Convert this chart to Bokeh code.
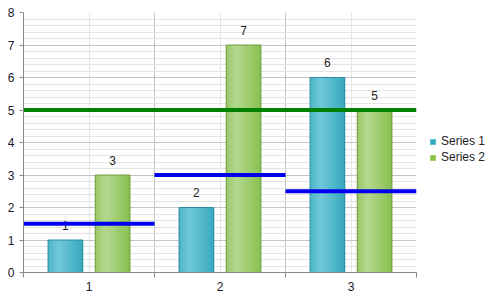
import numpy as np
from bokeh.plotting import figure
from bokeh.models import (Range1d, FixedTicker, Legend, LegendItem)
from bokeh.core.properties import value
from bokeh.embed import file_html
from bokeh.resources import INLINE

# ---- data ----
categories = ["1", "2", "3"]
series1 = [1, 2, 6]
series2 = [3, 7, 5]
blue_levels = [1.5, 3.0, 2.5]   # per-category horizontal line
green_level = 5.0               # line across whole chart
series_names = ["Series 1", "Series 2"]

FONT = "Liberation Sans"

x = np.arange(1, len(categories) + 1)

p = figure(frame_width=393, frame_height=260, width=491, height=293,
           min_border_left=23, min_border_right=75, min_border_top=12, min_border_bottom=21,
           output_backend="svg", toolbar_location=None,
           x_range=Range1d(0.5, 3.5), y_range=Range1d(0, 8))
p.outline_line_color = None
p.background_fill_color = "white"
p.border_fill_color = "white"

# axes
p.xaxis.ticker = FixedTicker(ticks=list(x), minor_ticks=list(np.arange(0.5, len(categories) + 1, 1.0)))
p.xaxis.major_label_overrides = {int(i): c for i, c in zip(x, categories)}
p.xaxis.major_tick_out = 0
p.xaxis.major_tick_in = 0
p.xaxis.minor_tick_out = 5
p.xaxis.minor_tick_in = 0
p.xaxis.minor_tick_line_color = "#8a8a8a"
p.xaxis.major_label_standoff = 4

p.yaxis.ticker = FixedTicker(ticks=list(range(0, 9)), minor_ticks=list(np.round(np.arange(0, 8.01, 0.2), 2)))
p.yaxis.major_tick_out = 4
p.yaxis.major_tick_in = 0
p.yaxis.minor_tick_out = 0
p.yaxis.minor_tick_in = 0
p.yaxis.major_tick_line_color = "#8a8a8a"
p.yaxis.major_label_standoff = 5

for ax in (p.xaxis, p.yaxis):
    ax.axis_line_color = "#8a8a8a"
    ax.major_label_text_font = FONT
    ax.major_label_text_font_size = "12px"
    ax.major_label_text_color = "#1a1a2e"

p.xgrid.grid_line_color = "#e6e6e6"
p.xgrid.minor_grid_line_color = "#c4c4c4"
p.ygrid.grid_line_color = "#c4c4c4"
p.ygrid.minor_grid_line_color = "#e4e4e4"

# bars with simulated gradient
bar_w = 0.265
offsets = [-0.18, 0.18]
edge_cols = [(0x36, 0xa8, 0xbe), (0x88, 0xc0, 0x50)]
light_cols = [(0x70, 0xc9, 0xd8), (0xb4, 0xd8, 0x8e)]
leg_cols = ["#35aac0", "#8bc34a"]
border_cols = ["#2a8ea2", "#6f9d40"]
N = 18

def mix(a, b, f):
    return "#%02x%02x%02x" % tuple(int(round(a[i] + (b[i] - a[i]) * f)) for i in range(3))

base_renderers = []
for s, vals in enumerate([series1, series2]):
    xs = x + offsets[s]
    base = p.vbar(x=xs, top=vals, bottom=0, width=bar_w, fill_color=leg_cols[s], line_color=None)
    base_renderers.append(base)
    sw = bar_w / N
    for k in range(N):
        t = (k + 0.5) / N
        f = 1 - (0.3 - t) / 0.3 * 0.6 if t < 0.3 else 1 - (t - 0.3) / 0.7
        col = mix(edge_cols[s], light_cols[s], max(0, f))
        left = xs - bar_w / 2 + k * sw
        right = np.minimum(left + 2 * sw, xs + bar_w / 2)
        p.quad(left=left, right=right, bottom=0, top=vals, fill_color=col, line_color=None)
    p.vbar(x=xs, top=vals, bottom=0, width=bar_w, fill_color=None,
           line_color=border_cols[s], line_width=1)
    p.text(x=xs, y=vals, text=[str(v) for v in vals], text_align="center",
           text_baseline="middle", y_offset=-15, text_font=value(FONT),
           text_font_size="12px", text_color="#222222")

# lines
p.segment(x0=x - 0.5, x1=x + 0.5, y0=blue_levels, y1=blue_levels,
          line_color="#0000ee", line_width=4)
p.segment(x0=[0.5], x1=[3.5], y0=[green_level], y1=[green_level],
          line_color="#008000", line_width=4)

# legend
items = [LegendItem(label=series_names[s], renderers=[base_renderers[s]]) for s in range(2)]
legend = Legend(items=items, location=(13, 108), margin=0, padding=0,
                glyph_width=7, glyph_height=7, label_height=13, spacing=2,
                label_standoff=5, border_line_color=None, background_fill_alpha=0,
                label_text_font=FONT, label_text_font_size="12px", label_text_color="#222222")
p.add_layout(legend, "right")

open("out.html", "w").write(file_html(p, INLINE))
